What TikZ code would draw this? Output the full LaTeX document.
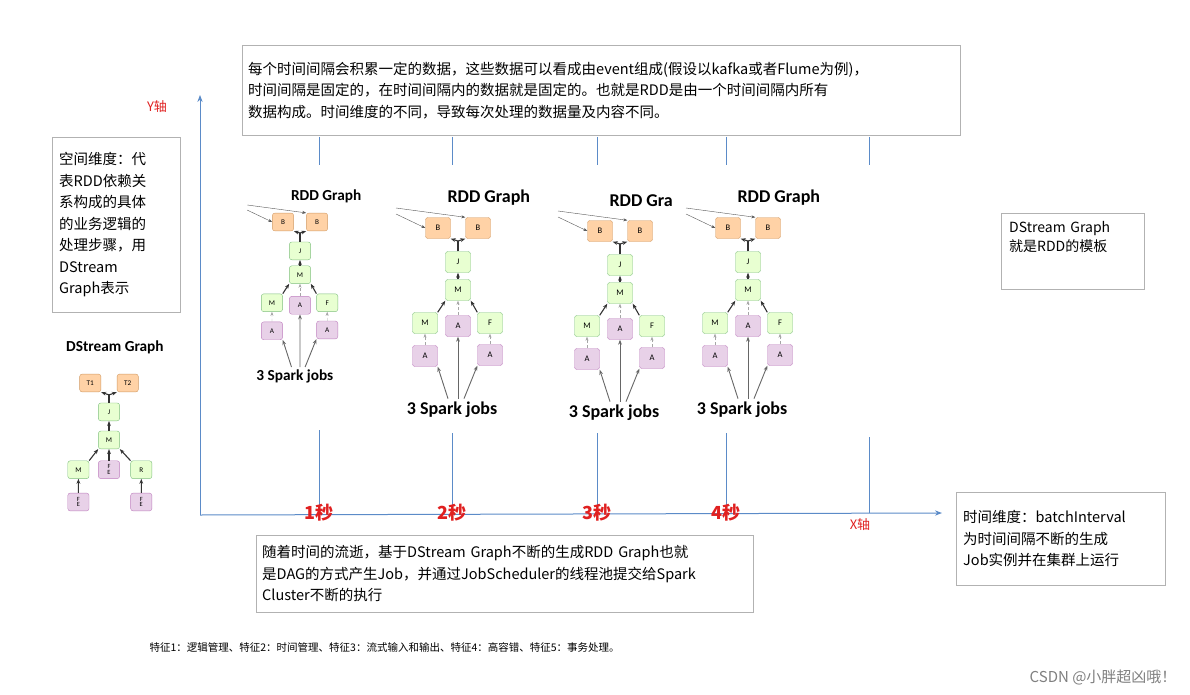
\documentclass[tikz,border=0pt]{standalone}
\usepackage{fontspec}
\setmainfont{Noto Sans CJK SC}
\newfontfamily\carl{Carlito}
\usetikzlibrary{arrows.meta}
\definecolor{axis}{HTML}{5B8BC8}
\definecolor{red1}{HTML}{E02020}
\tikzset{
 ob/.style={draw=orange!70!black!60,fill=orange!35,rounded corners=2.5pt,minimum width=25pt,minimum height=21pt,inner sep=0pt,font=\carl\fontsize{8.5}{8}\selectfont},
 gb/.style={ob,draw=green!50!black!50,fill=green!50!yellow!18},
 pb/.style={ob,draw=violet!50,fill=violet!18},
 dk/.style={-{Stealth[length=5pt]},line width=1.1pt,black!80},
 lt/.style={-{Stealth[length=4pt]},gray!70,densely dashed},
 jb/.style={-{Stealth[length=5pt]},gray!80!black,line width=0.9pt},
 tbox/.style={draw=gray!60,fill=white,align=left,anchor=north west,font=\fontsize{14.5}{21.5}\selectfont},
 tick/.style={axis,line width=0.8pt},
 sec/.style={red1,font=\bfseries\fontsize{18}{18}\selectfont},
}
\newcommand\rddg[5]{%
\begin{scope}[shift={(#2,#3)},scale=#5,transform shape]
\node[ob] (#1b1) at (-20,0){B};
\node[ob] (#1b2) at (20,0){B};
\node[gb] (#1j) at (0,34){J};
\node[gb] (#1m) at (0,62){M};
\node[gb] (#1ml) at (-33,95){M};
\node[pb] (#1ac) at (0,98){A};
\node[gb] (#1f) at (32,95){F};
\node[pb] (#1al) at (-33,128){A};
\node[pb] (#1ar) at (32,127){A};
\node[font=\carl\bfseries\fontsize{18}{18}\selectfont] (#1jobs) at (-6,182){3 Spark jobs};
\node[font=\carl\bfseries\fontsize{18}{18}\selectfont,anchor=west] (#1t) at (-14,-30){#4};
\coordinate (#1v) at (0,13);
\coordinate (#1s1) at (-62,-20);
\coordinate (#1s2) at (-62,-14);
\draw[line width=1.1pt,black!80] (#1j.north) -- (#1v);
\draw[dk] (#1v) -- (#1b1.south east);
\draw[dk] (#1v) -- (#1b2.south west);
\draw[dk] (#1m) -- (#1j);
\draw[dk] (#1ml.north east) -- (#1m.south west);
\draw[dk] (#1f.north west) -- (#1m.south east);
\draw[lt] (#1ac) -- (#1m);
\draw[lt] (#1al) -- (#1ml);
\draw[lt] (#1ar) -- (#1f);
\draw[jb] (#1jobs.north) ++(-4,0) -- (#1al.south east);
\draw[jb] (#1jobs.north) ++(6,0) -- (#1ac.south);
\draw[jb] (#1jobs.north) ++(12,0) -- (#1ar.south west);
\draw[-{Stealth[length=4pt]},gray!70!black] (#1s1) -- (#1b2.north west);
\draw[-{Stealth[length=4pt]},gray!70!black] (#1s2) -- (#1b1.west);
\end{scope}}
\begin{document}
\begin{tikzpicture}[x=1pt,y=-1pt]
\useasboundingbox[fill=white] (0,0) rectangle (1190,695);
% axes
\coordinate (o) at (200,515);
\coordinate (ytop) at (200,95);
\coordinate (xend) at (942,513);
\draw[axis,line width=1pt,-{Stealth[length=7pt]}] (o) -- (ytop);
\draw[axis,line width=1pt,-{Stealth[length=7pt]}] (o) -- (xend);
\node[red1,font=\fontsize{13}{13}\selectfont] (ylab) at (157,107){Y轴};
\node[red1,font=\fontsize{13}{13}\selectfont] (xlab) at (860,525){X轴};
% ticks
\foreach \x/\b in {319/430,452/433,597/433,726/433,869/437}{
 \draw[tick] (\x,137) -- (\x,165);
 \draw[tick] (\x,\b) -- (\x,513);
}
\node[sec] (s1) at (319,513){1秒};
\node[sec] (s2) at (452,513){2秒};
\node[sec] (s3) at (597,513){3秒};
\node[sec] (s4) at (726,513){4秒};
% graphs
\rddg{g1}{300}{222}{RDD Graph}{0.85}
\rddg{g2}{458}{228}{RDD Graph}{1}
\rddg{g3}{620}{231}{RDD Gra}{1}
\rddg{g4}{748}{228}{RDD Graph}{1}
% dstream graph
\begin{scope}[shift={(109,383)},scale=0.85,transform shape]
\node[font=\carl\bfseries\fontsize{18}{18}\selectfont] (dt) at (7,-42){DStream Graph};
\node[ob] (t1) at (-22,0){T1};
\node[ob] (t2) at (22,0){T2};
\node[gb] (dj) at (0,34){J};
\node[gb] (dm) at (0,67){M};
\node[gb] (dml) at (-36,102){M};
\node[pb] (dfc) at (0,102){\shortstack{\fontsize{7.5}{6}\selectfont F\\[-1pt]\fontsize{7.5}{6}\selectfont E}};
\node[gb] (dr) at (38,102){R};
\node[pb] (dfl) at (-36,140){\shortstack{\fontsize{7.5}{6}\selectfont F\\[-1pt]\fontsize{7.5}{6}\selectfont E}};
\node[pb] (dfr) at (38,140){\shortstack{\fontsize{7.5}{6}\selectfont F\\[-1pt]\fontsize{7.5}{6}\selectfont E}};
\coordinate (dv) at (0,14);
\draw[line width=1.1pt,black!80] (dj.north) -- (dv);
\draw[dk] (dv) -- (t1.south east);
\draw[dk] (dv) -- (t2.south west);
\draw[dk] (dm) -- (dj);
\draw[dk] (dml.north east) -- (dm.south west);
\draw[dk] (dfc) -- (dm);
\draw[dk] (dr.north west) -- (dm.south east);
\draw[dk] (dfl) -- (dml);
\draw[dk] (dfr) -- (dr);
\end{scope}
% boxes
\node[tbox,text width=706pt,minimum height=90pt,inner sep=6pt] (top) at (242,45){每个时间间隔会积累一定的数据，这些数据可以看成由event组成(假设以kafka或者Flume为例)，\\时间间隔是固定的，在时间间隔内的数据就是固定的。也就是RDD是由一个时间间隔内所有\\数据构成。时间维度的不同，导致每次处理的数据量及内容不同。};
\node[tbox,text width=114pt,minimum height=175pt,inner sep=7pt] (left) at (52,137){空间维度：代\\表RDD依赖关\\系构成的具体\\的业务逻辑的\\处理步骤，用\\DStream\\Graph表示};
\node[tbox,text width=127pt,inner sep=8pt,font=\fontsize{14}{19}\selectfont] (right) at (1001,213){DStream Graph\\就是RDD的模板\\\rule{0pt}{28pt}};
\node[tbox,text width=195pt,minimum height=93pt,inner sep=7pt] (br) at (956,492){时间维度：batchInterval\\为时间间隔不断的生成\\Job实例并在集群上运行};
\node[tbox,text width=485pt,minimum height=77pt,inner sep=6pt] (bot) at (256,535){随着时间的流逝，基于DStream Graph不断的生成RDD Graph也就\\是DAG的方式产生Job，并通过JobScheduler的线程池提交给Spark\\Cluster不断的执行};
\node[anchor=west,font=\fontsize{10.5}{10}\selectfont] (feat) at (146,647){特征1：逻辑管理、特征2：时间管理、特征3：流式输入和输出、特征4：高容错、特征5：事务处理。};
\node[anchor=east,gray,font=\fontsize{15}{15}\selectfont] (wm) at (1180,677){CSDN @小胖超凶哦！};
\end{tikzpicture}
\end{document}
